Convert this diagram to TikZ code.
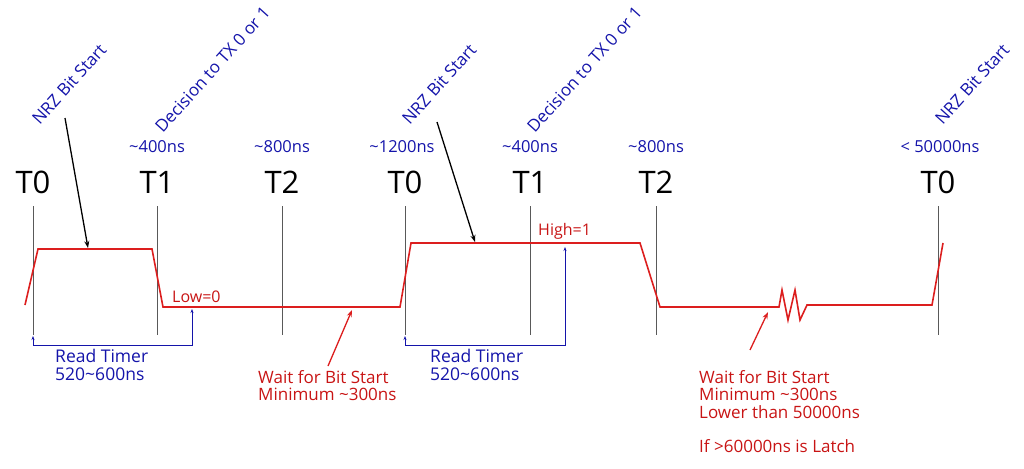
\documentclass[tikz,border=0pt]{standalone}
\usepackage{fontspec}
\setmainfont{Open Sans}
\usetikzlibrary{arrows.meta}
\definecolor{wred}{RGB}{220,30,30}
\definecolor{tred}{RGB}{200,20,20}
\definecolor{tblue}{RGB}{20,20,170}
\begin{document}
\begin{tikzpicture}[x=1pt,y=-1pt,
  tick/.style={draw=gray!70!black,line width=0.9pt},
  tlab/.style={font=\fontsize{31}{31}\selectfont,inner sep=0pt},
  ns/.style={text=tblue,font=\fontsize{16.5}{16.5}\selectfont,inner sep=0pt},
  rot/.style={text=tblue,font=\fontsize{17}{17}\selectfont,inner sep=0pt,rotate=48,anchor=south west},
  blk/.style={-{Stealth[length=7pt,width=5pt]},line width=1.3pt},
  redarr/.style={-{Stealth[length=7pt,width=5pt]},line width=1.3pt,draw=wred},
  brk/.style={draw=tblue,line width=0.8pt,-{Stealth[length=4pt,width=3pt]}},
  rtxt/.style={text=tred,font=\fontsize{17}{17.5}\selectfont,align=left,inner sep=0pt,anchor=north west},
  btxt/.style={text=tblue,font=\fontsize{17.5}{17.5}\selectfont,align=left,inner sep=0pt,anchor=north west}]
\useasboundingbox (0,0) rectangle (1024,468);
% ticks
\foreach \n/\x in {a/33,b/157,c/282,d/405,e/530,f/656,g/938}{
  \coordinate (\n t) at (\x,206); \coordinate (\n b) at (\x,335);
  \draw[tick] (\n t) -- (\n b);}
\foreach \n/\x/\t in {a/33/T0,b/157/T1,c/282/T2,d/405/T0,e/530/T1,f/656/T2,g/938/T0}
  \node[tlab] (L\n) at (\x,182) {\t};
\node[ns] (n1) at (157,147) {\textasciitilde400ns};
\node[ns] (n2) at (282,147) {\textasciitilde800ns};
\node[ns] (n3) at (402,147) {\textasciitilde1200ns};
\node[ns] (n4) at (530,147) {\textasciitilde400ns};
\node[ns] (n5) at (656,147) {\textasciitilde800ns};
\node[ns] (n6) at (940,147) {< 50000ns};
% rotated labels
\node[rot] (r1) at (40,126) {NRZ Bit Start};
\node[rot] (r2) at (163,134) {Decision to TX 0 or 1};
\node[rot] (r3) at (410,126) {NRZ Bit Start};
\node[rot] (r4) at (535,134) {Decision to TX 0 or 1};
\node[rot] (r5) at (943,126) {NRZ Bit Start};
% waveform
\draw[wred,line width=1.6pt,line join=miter] (25,305) -- (38,249) -- (152,249) -- (163,307) -- (400,307) -- (411,243) -- (640,243) -- (660,307) -- (779,307) -- (782,290) -- (788,320) -- (795,290) -- (800,320) -- (807,305) -- (932,305) -- (943,243);
\node[text=tred,font=\fontsize{16}{16}\selectfont,inner sep=0pt,anchor=south west] (low) at (172,303) {Low=0};
\node[text=tred,font=\fontsize{16}{16}\selectfont,inner sep=0pt,anchor=south west] (high) at (538,240) {High=1};
% black arrows
\coordinate (k1) at (65,118); \coordinate (k1e) at (88,248);
\draw[blk] (k1) -- (k1e);
\coordinate (k2) at (437,122); \coordinate (k2e) at (475,242);
\draw[blk] (k2) -- (k2e);
% read timer brackets
\coordinate (ba) at (33,345); \coordinate (bb) at (192,345); \coordinate (bc) at (192,309);
\draw[brk] (bb) -- (ba) -- (33,336);
\draw[brk] (ba) -- (bb) -- (bc);
\coordinate (bd) at (405,345); \coordinate (be) at (565,345); \coordinate (bf) at (565,247);
\draw[brk] (be) -- (bd) -- (405,336);
\draw[brk] (bd) -- (be) -- (bf);
\node[btxt] (rt1) at (55,349) {Read Timer\\520\textasciitilde600ns};
\node[btxt] (rt2) at (430,349) {Read Timer\\520\textasciitilde600ns};
% red arrows
\coordinate (q1) at (328,366); \coordinate (q1e) at (352,310);
\draw[redarr] (q1) -- (q1e);
\coordinate (q2) at (750,350); \coordinate (q2e) at (768,312);
\draw[redarr] (q2) -- (q2e);
\node[rtxt] (w1) at (258,370) {Wait for Bit Start\\Minimum \textasciitilde300ns};
\node[rtxt] (w2) at (699,370) {Wait for Bit Start\\Minimum \textasciitilde300ns\\Lower than 50000ns\\[17pt]If >60000ns is Latch};
\end{tikzpicture}
\end{document}
